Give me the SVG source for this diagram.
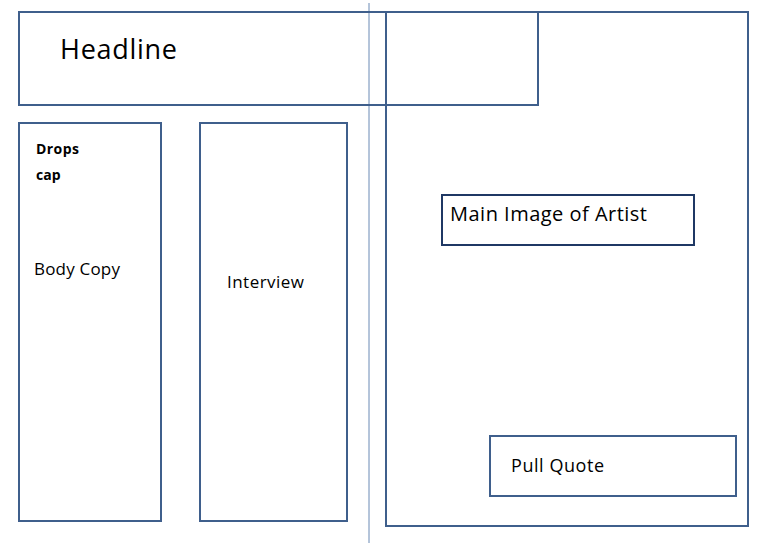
<svg xmlns="http://www.w3.org/2000/svg" width="768" height="543" viewBox="0 0 768 543">
<style>
.b{fill:none;stroke:#3f5f8c;stroke-width:2}
.d{fill:none;stroke:#1f3864;stroke-width:2}
text{font-family:"Open Sans","Liberation Sans",sans-serif;fill:#000}
</style>
<rect width="768" height="543" fill="#fff"/>
<g id="guide"><line x1="369" y1="3" x2="369" y2="543" stroke="#6a8ab5" stroke-width="1"/></g>
<g id="page"><rect class="b" x="386" y="12" width="362" height="514"/></g>
<g id="headline"><rect class="b" x="19" y="12" width="519" height="93"/><text x="60" y="59" font-size="27" textLength="117">Headline</text></g>
<g id="body"><rect class="b" x="19" y="123" width="142" height="398"/>
<text x="36" y="154" font-size="14" font-weight="bold" textLength="43">Drops</text>
<text x="36" y="180" font-size="14" font-weight="bold">cap</text>
<text x="34" y="275" font-size="17" textLength="86">Body Copy</text></g>
<g id="interview"><rect class="b" x="200" y="123" width="147" height="398"/><text x="227" y="288" font-size="17" textLength="77">Interview</text></g>
<g id="image"><rect class="d" x="442" y="195" width="252" height="50"/><text x="450" y="221" font-size="20" textLength="197">Main Image of Artist</text></g>
<g id="quote"><rect class="b" x="490" y="436" width="246" height="60"/><text x="511" y="472" font-size="18" textLength="93">Pull Quote</text></g>
<g id="connectors"/>
</svg>
